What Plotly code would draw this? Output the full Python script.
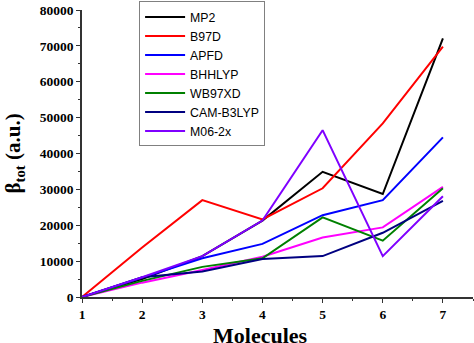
import plotly.graph_objects as go

molecules = [1, 2, 3, 4, 5, 6, 7]
mp2 = [0, 5000, 11400, 21300, 34900, 28700, 72100]
b97d = [0, 13800, 27000, 21600, 30300, 48400, 69800]
apfd = [0, 5500, 10800, 14800, 22800, 27000, 44500]
bhhlyp = [0, 4000, 7500, 11200, 16600, 19400, 30700]
wb97xd = [0, 4500, 8400, 10800, 22200, 15700, 30300]
camb3lyp = [0, 5500, 7100, 10600, 11400, 17900, 26800]
m062x = [0, 5500, 11400, 21300, 46500, 11400, 28100]

names = ["MP2", "B97D", "APFD", "BHHLYP", "WB97XD", "CAM-B3LYP", "M06-2x"]
series = [mp2, b97d, apfd, bhhlyp, wb97xd, camb3lyp, m062x]
colors = ["#000000", "#ff0000", "#0000ff", "#ff00ff", "#008000", "#000080", "#7f00ff"]

fig = go.Figure()
for n, s, c in zip(names, series, colors):
    fig.add_trace(go.Scatter(x=molecules, y=s, mode="lines", name=n,
                             line=dict(color=c, width=2)))

tickfont = dict(family="Liberation Serif", size=13.5, color="#000000", weight="bold")
fig.update_layout(
    width=474, height=343,
    margin=dict(l=82, r=1, t=10, b=46),
    plot_bgcolor="white", paper_bgcolor="white",
    showlegend=True,
    legend=dict(x=0.146, y=1.03, xanchor="left", yanchor="top",
                bordercolor="#808080", borderwidth=1, bgcolor="white",
                font=dict(family="Liberation Sans", size=12.3, color="#000"),
                tracegroupgap=0, itemwidth=40),
    xaxis=dict(range=[1, 7.5], tickvals=molecules, showgrid=False, zeroline=False,
               showline=True, linecolor="#333333", linewidth=1.5,
               ticks="outside", ticklen=4, tickwidth=1, tickcolor="#333333",
               tickfont=tickfont,
               minor=dict(dtick=0.5, ticks="outside", ticklen=2, tickcolor="#333333")),
    yaxis=dict(range=[0, 80000], dtick=10000, showgrid=False, zeroline=False,
               showline=True, linecolor="#333333", linewidth=1.5,
               ticks="outside", ticklen=4, tickwidth=1, tickcolor="#333333",
               tickfont=tickfont, tickformat="d",
               minor=dict(dtick=5000, ticks="outside", ticklen=2, tickcolor="#333333")),
    annotations=[
        dict(text="<b>Molecules</b>", xref="paper", yref="paper", x=0.457, y=-0.085,
             xanchor="center", yanchor="top", showarrow=False,
             font=dict(family="Liberation Serif", size=22, color="#000")),
        dict(text="<b>β<sub>tot</sub> (a.u.)</b>", xref="paper", yref="paper",
             x=-0.174, y=0.5, xanchor="center", yanchor="middle", textangle=-90,
             showarrow=False,
             font=dict(family="Liberation Serif", size=21, color="#000")),
    ],
)
fig.write_html("out.html")
